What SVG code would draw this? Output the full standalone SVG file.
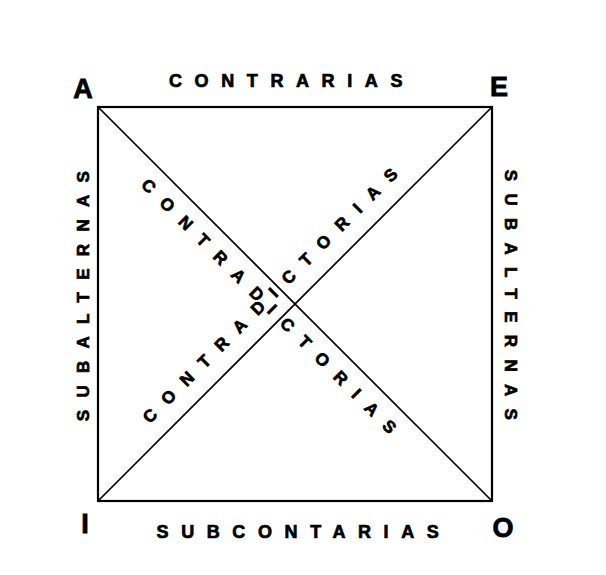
<svg xmlns="http://www.w3.org/2000/svg" width="606" height="575" viewBox="0 0 606 575">
<style>
.lbl{font-family:"Liberation Sans",Arial,sans-serif;font-weight:bold;fill:#000;stroke:#000;stroke-width:0.7px}
.side{font-size:18px;letter-spacing:12.6px;text-anchor:middle}
.vert{font-size:17px;letter-spacing:12.3px;text-anchor:middle}
.diag{font-size:17px;letter-spacing:13.3px;text-anchor:middle}
.corner{font-size:27px;text-anchor:middle;stroke-width:0.8px}
.edge{stroke:#000;stroke-width:2.2;fill:none}
.dg{stroke:#000;stroke-width:1.7;fill:none}
</style>
<rect width="606" height="575" fill="#fff"/>
<g id="connectors">
<rect class="edge" x="98" y="107" width="394" height="394"/>
<line class="dg" x1="98" y1="107" x2="492" y2="501"/>
<line class="dg" x1="98" y1="501" x2="492" y2="107"/>
</g>
<g id="node-A"><text class="lbl corner" x="83" y="98">A</text></g>
<g id="node-E"><text class="lbl corner" x="499" y="96">E</text></g>
<g id="node-I"><text class="lbl corner" x="85" y="533">I</text></g>
<g id="node-O"><text class="lbl corner" x="503" y="537">O</text></g>
<g id="label-contrarias"><text class="lbl side" x="292" y="87">CONTRARIAS</text></g>
<g id="label-subcontarias"><text class="lbl side" x="304" y="538">SUBCONTARIAS</text></g>
<g id="label-subalternas-left"><text class="lbl vert" transform="translate(89,290) rotate(-90)">SUBALTERNAS</text></g>
<g id="label-subalternas-right"><text class="lbl vert" transform="translate(505,301) rotate(90)">SUBALTERNAS</text></g>
<g id="label-contradictorias-ao"><text class="lbl diag" transform="translate(269.5,315) rotate(45)">CONTRADICTORIAS</text></g>
<g id="label-contradictorias-ie"><text class="lbl diag" transform="translate(279,295) rotate(-45)">CONTRADICTORIAS</text></g>
</svg>
